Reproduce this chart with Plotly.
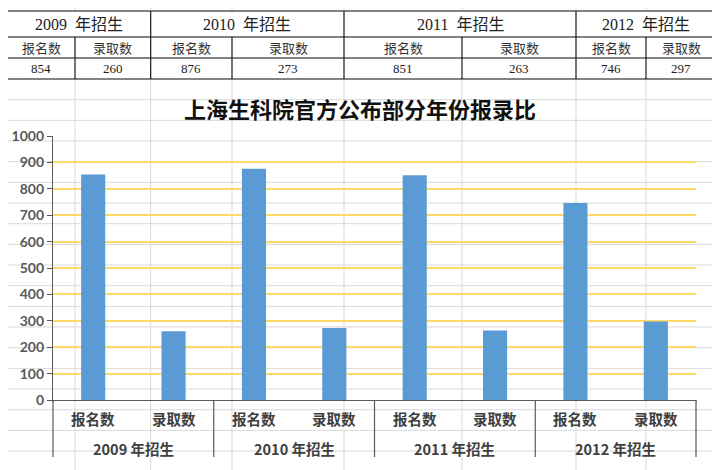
import plotly.graph_objects as go

# ---------------- data ----------------
years = ["2009", "2010", "2011", "2012"]
group_labels = [y + " 年招生" for y in years]
sub_labels = ["报名数", "录取数"]
applicants = [854, 876, 851, 746]
admitted = [260, 273, 263, 297]
title_text = "上海生科院官方公布部分年份报录比"

# ---------------- geometry (reference pixels) ----------------
OFF = 8                  # browser default body margin
W, H = 720, 470
PX0, PX1 = 53, 696      # plot area left/right
PY0, PY1 = 136, 400     # plot area top/bottom


def fx(px):
    return (px - PX0) / (PX1 - PX0)


def fy(py):
    return (PY1 - py) / (PY1 - PY0)


# multicategory x
xs_outer, xs_inner, ys = [], [], []
for g, a, b in zip(group_labels, applicants, admitted):
    xs_outer += [g, g]
    xs_inner += sub_labels
    ys += [a, b]

fig = go.Figure()
fig.add_trace(go.Bar(
    x=[xs_outer, xs_inner], y=ys,
    marker=dict(color="#5B9BD5", line=dict(width=0)),
    width=0.3, hoverinfo="y", showlegend=False,
))

shapes = []
# spreadsheet background grid
col_x = [7, 75, 150.7, 232, 344, 462, 576, 646, 716]
row_y = [11, 37, 58, 79]
r = 79.0
while r < H:
    r += 20.67
    row_y.append(r)
GRID = "#D9D9D9"
for cx in col_x:
    for (a, b) in [(0, 11), (79, H)]:
        shapes.append(dict(type="line", xref="paper", yref="paper",
                           x0=fx(cx), x1=fx(cx), y0=fy(a), y1=fy(b),
                           line=dict(color=GRID, width=1), layer="below"))
for ry in row_y:
    shapes.append(dict(type="line", xref="paper", yref="paper",
                       x0=fx(0), x1=fx(W), y0=fy(ry), y1=fy(ry),
                       line=dict(color=GRID, width=1), layer="below"))

# table borders
TB = "#1a1a1a"
for ry in [11, 37, 58, 79]:
    shapes.append(dict(type="line", xref="paper", yref="paper",
                       x0=fx(7), x1=fx(716), y0=fy(ry), y1=fy(ry),
                       line=dict(color=TB, width=1.2)))
group_edges = [7, 150.7, 344, 576, 716]
mid_edges = [75, 232, 462, 646]
for cx in group_edges:
    shapes.append(dict(type="line", xref="paper", yref="paper",
                       x0=fx(cx), x1=fx(cx), y0=fy(11), y1=fy(79),
                       line=dict(color=TB, width=1.2)))
for cx in mid_edges:
    shapes.append(dict(type="line", xref="paper", yref="paper",
                       x0=fx(cx), x1=fx(cx), y0=fy(37), y1=fy(79),
                       line=dict(color=TB, width=1.2)))

# category axis dividers (group boundaries)
AX = "#595959"
n_groups = len(group_labels)
for k in range(n_groups + 1):
    shapes.append(dict(type="line", xref="paper", yref="paper",
                       x0=k / n_groups, x1=k / n_groups, y0=fy(400), y1=fy(457),
                       line=dict(color=AX, width=1.2)))

annotations = []


def ann(text, x, y, font):
    annotations.append(dict(text=text, xref="paper", yref="paper", x=x, y=y,
                            xanchor="center", yanchor="middle", showarrow=False,
                            font=font))


TFONT = "Liberation Serif, Noto Sans CJK SC, serif"
for i, g in enumerate(years):
    gx0, gx1 = group_edges[i], group_edges[i + 1]
    mx = mid_edges[i]
    ann(g + "  年招生", fx((gx0 + gx1) / 2), fy(24.5),
        dict(family=TFONT, size=16, color="#222"))
    for (c0, c1, lab, val) in [(gx0, mx, sub_labels[0], applicants[i]),
                               (mx, gx1, sub_labels[1], admitted[i])]:
        ann(lab, fx((c0 + c1) / 2), fy(48), dict(family=TFONT, size=13, color="#333"))
        ann(str(val), fx((c0 + c1) / 2), fy(68.5), dict(family=TFONT, size=13, color="#222"))

# category labels (positioned on the category slots of the multicategory axis)
n_cat = len(xs_inner)
CFONT = dict(family="Noto Sans CJK SC", size=14.5, color="#404040", weight="bold")
for j, lab in enumerate(xs_inner):
    ann(lab, (j + 0.5) / n_cat, fy(418), CFONT)
for k, g in enumerate(group_labels):
    ann(g, (k + 0.5) / n_groups, fy(448), CFONT)

ann("<b>" + title_text + "</b>", fx(360), fy(108),
    dict(family="Noto Sans CJK SC", size=22, color="#111"))

fig.update_layout(
    template="none",
    width=W - OFF, height=H - OFF, autosize=False,
    margin=dict(l=PX0 - OFF, r=W - PX1, t=PY0 - OFF, b=H - PY1, pad=0, autoexpand=False),
    paper_bgcolor="white", plot_bgcolor="rgba(0,0,0,0)",
    shapes=shapes, annotations=annotations,
)
fig.update_yaxes(
    range=[0, 1000], dtick=100, showgrid=True, gridcolor="#FFD966", gridwidth=1.5,
    showline=True, linecolor=AX, linewidth=1.2,
    ticks="outside", ticklen=5, tickcolor=AX, automargin=False,
    tickfont=dict(family="Lato, Open Sans, sans-serif", size=14, color="#595959", weight="bold"),
    zeroline=False, fixedrange=True,
)
fig.update_xaxes(
    type="multicategory", showgrid=False, showline=True, linecolor=AX, linewidth=1.2,
    showticklabels=False, ticks="", fixedrange=True, automargin=False,
)

fig.write_html("out.html")
